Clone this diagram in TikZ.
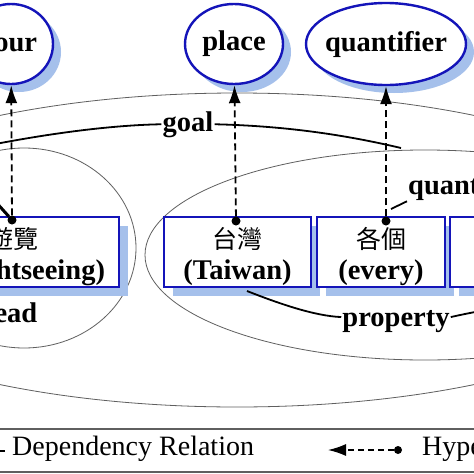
\documentclass[tikz,border=0pt]{standalone}
\usepackage{fontspec}
\setmainfont{Liberation Serif}
\newfontfamily\cjk{Noto Sans CJK TC}
\usetikzlibrary{shapes.geometric, shadows, arrows.meta}
\definecolor{hnblue}{RGB}{20,20,185}
\definecolor{hnshadow}{RGB}{165,192,235}
\definecolor{hngray}{RGB}{95,95,95}
\newcommand{\hnzh}[1]{{\cjk\fontsize{25}{31}\selectfont\mdseries\rule{0pt}{30pt}#1}}

\begin{document}
\begin{tikzpicture}[
  x=1pt, y=-1pt,
  concept/.style={ellipse, draw=hnblue, line width=2.4pt, fill=white, inner xsep=-6pt, inner ysep=0pt, minimum height=80pt, font=\fontsize{28.5}{31}\selectfont\bfseries, drop shadow={fill=hnshadow, opacity=1, shadow xshift=8pt, shadow yshift=-8pt}},
  word/.style={rectangle, draw=hnblue, line width=2.4pt, fill=white, align=center, inner sep=0pt, minimum height=70pt, font=\fontsize{28.5}{31}\selectfont\bfseries, drop shadow={fill=hnshadow, opacity=1, shadow xshift=9pt, shadow yshift=-9pt}},
  groupline/.style={draw=hngray, line width=0.8pt},
  rel/.style={line width=1.8pt},
  rellabel/.style={inner sep=1pt, font=\fontsize{28.5}{31}\selectfont\bfseries},
  legend/.style={inner sep=0pt, font=\fontsize{28}{32}\selectfont},
  anchordot/.style={circle, fill=black, inner sep=0pt, minimum size=9pt},
  arrow/.style={-{Latex[length=18pt,width=12pt]}, line width=1.8pt, dash pattern=on 7pt off 4pt}
]
\useasboundingbox (0,0) rectangle (474,474);
\fill[white] (0,0) rectangle (474,474);
\clip (0,0) rectangle (474,474);

% Groupings
\draw[groupline] (237,250) ellipse [x radius=460, y radius=157];
\draw[groupline] (24,248) ellipse [x radius=112, y radius=100];
\draw[groupline] (425,255) ellipse [x radius=280, y radius=105];

% Top row - Concepts
\node[concept, minimum width=84pt] (tour) at (11,44) {tour};
\node[concept, minimum width=98pt] (place) at (234,44) {place};
\node[concept, minimum width=160pt, minimum height=82pt] (quant) at (386,44) {quantifier};

% Bottom row - Words
\node[word, minimum width=180pt] (w1) at (29,252) {\hnzh{遊覽}\hspace*{32pt}\\(sightseeing)};
\node[word, minimum width=147pt] (w2) at (237.5,252) {\hnzh{台灣}\\(Taiwan)};
\node[word, minimum width=128pt] (w3) at (381,252) {\hnzh{各個}\\(every)};
\node[word, minimum width=100pt] (w4) at (500,252) {};

% Hypernym arrows
\node[anchordot] (d1) at (12,220) {};
\node[anchordot] (d2) at (236,221) {};
\node[anchordot] (d3) at (386,221) {};
\draw[arrow] (d1) -- (tour);
\draw[arrow] (d2) -- (place);
\draw[arrow] (d3) -- (quant);

% Dependency relations
\node[rellabel, anchor=base] (goal) at (188,131) {goal};
\node[rellabel, anchor=base] (prop) at (396,326) {property};
\node[rellabel, anchor=base] (head) at (8,322) {head};
\node[rellabel, anchor=base west] (qlab) at (407,194) {quantifier};
\coordinate (g0) at (-20,147);
\coordinate (g1) at (401,148);
\coordinate (p0) at (247,291);
\coordinate (p1) at (480,311);
\coordinate (q0) at (391,209);
\coordinate (h0) at (-6,200);
\draw[rel] (g0) .. controls (60,131) and (120,125) .. (goal.west);
\draw[rel] (goal.east) .. controls (290,126) and (350,136) .. (g1);
\draw[rel] (p0) .. controls (280,304) and (315,316) .. ([yshift=4pt]prop.west);
\draw[rel] ([yshift=4pt]prop.east) .. controls (460,315) .. (p1);
\draw[rel] (q0) -- (qlab.south west);
\draw[rel, line width=3pt] (h0) -- (d1);

% Legend
\draw[hngray, line width=2pt] (-10,429) rectangle (484,472);
\coordinate (l0) at (-40,451);
\coordinate (l1) at (5,451);
\draw[rel] (l0) -- (l1);
\node[legend, anchor=base west] (ldep) at (12,455) {Dependency Relation};
\node[anchordot, minimum size=8pt] (ld) at (398,450) {};
\coordinate (la) at (328,450);
\draw[arrow, line width=1.5pt, dash pattern=on 6pt off 4pt] (ld) -- (la);
\node[legend, anchor=base west] (lhyp) at (422,455) {Hypernym Relation};

\end{tikzpicture}
\end{document}
